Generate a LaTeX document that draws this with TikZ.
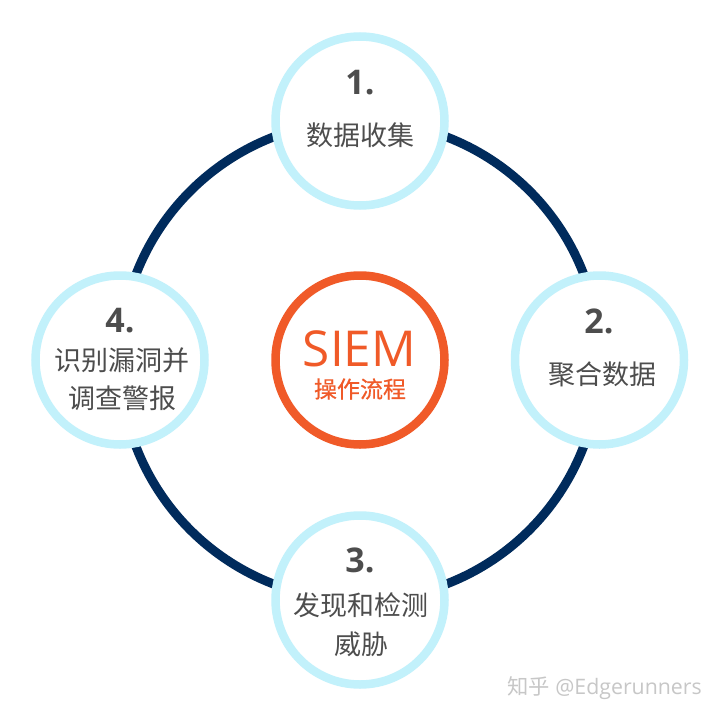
\documentclass[tikz,border=0pt]{standalone}
\usepackage{fontspec}
\setmainfont{Open Sans}
\newfontfamily\cjk{Noto Sans CJK SC}
\newfontfamily\cjkmed[FakeBold=0.6]{Noto Sans CJK SC}
\usetikzlibrary{backgrounds}
\definecolor{ringblue}{HTML}{C2F1FB}
\definecolor{navy}{HTML}{002B5C}
\definecolor{siem}{HTML}{F05A28}
\definecolor{txt}{HTML}{4D4D4D}
\tikzset{
 stagecirc/.style={circle,draw=ringblue,line width=8.5pt,fill=white,minimum size=169pt,inner sep=0pt},
 centrecirc/.style={circle,draw=siem,line width=8.5pt,fill=white,minimum size=169pt,inner sep=0pt},
 numtxt/.style={text=txt,font=\fontsize{34}{34}\selectfont\bfseries,inner sep=0pt},
 labeltxt/.style={text=txt,font=\fontsize{27}{27}\selectfont\cjk,inner sep=0pt},
 link/.style={draw=navy,line width=9pt},
 wm/.style={text=black!22,font=\fontsize{21.3}{21.3}\selectfont,inner sep=0pt}
}
\begin{document}
\begin{tikzpicture}[x=1pt,y=-1pt]
\useasboundingbox (0,0) rectangle (720,720);
\node[stagecirc] (a) at (360,121) {};
\node[stagecirc] (b) at (599.5,360) {};
\node[stagecirc] (c) at (360,600) {};
\node[stagecirc] (d) at (120,360) {};
\node[centrecirc] (m) at (360,360) {};
\begin{scope}[on background layer]
\fill[white] (0,0) rectangle (720,720);
\draw[link] (a.center) to[bend left=45] (b.center);
\draw[link] (b.center) to[bend left=45] (c.center);
\draw[link] (c.center) to[bend left=45] (d.center);
\draw[link] (d.center) to[bend left=45] (a.center);
\end{scope}
\node[numtxt] (n1) at (360,83) {1.};
\node[labeltxt] (t1) at (360,135) {数据收集};
\node[numtxt] (n2) at (599,321) {2.};
\node[labeltxt] (t2) at (602,374) {聚合数据};
\node[numtxt] (n3) at (360,560) {3.};
\node[labeltxt] (t3a) at (361,605) {发现和检测};
\node[labeltxt] (t3b) at (361,644) {威胁};
\node[numtxt] (n4) at (120,321) {4.};
\node[labeltxt] (t4a) at (122,360) {识别漏洞并};
\node[labeltxt] (t4b) at (122,398) {调查警报};
\node[text=siem,font=\fontsize{49.5}{49.5}\selectfont,inner sep=0pt] (s) at (359.5,349) {SIEM};
\node[text=siem,font=\fontsize{23}{23}\selectfont\cjkmed,inner sep=0pt] (s2) at (360,389) {操作流程};
\node[wm,anchor=west] (w) at (507,688) {{\cjk 知乎} @Edgerunners};
\end{tikzpicture}
\end{document}
